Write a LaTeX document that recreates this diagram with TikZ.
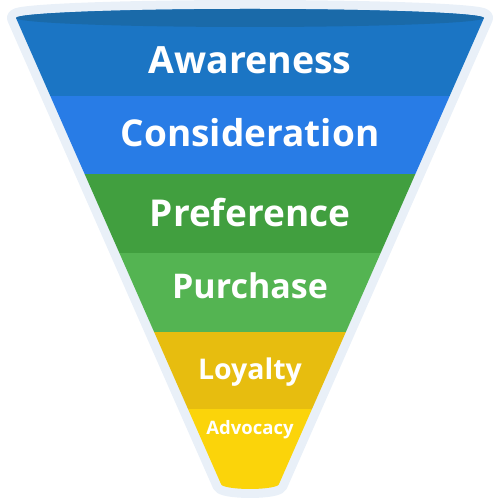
\documentclass[tikz,border=0pt]{standalone}
\usepackage{fontspec}
\setmainfont{Open Sans}
\usetikzlibrary{positioning}

\definecolor{rimcol}{HTML}{E9F0F8}
\definecolor{awarecol}{HTML}{1B75C4}
\definecolor{awaretop}{HTML}{1A6AA9}
\definecolor{considcol}{HTML}{287CE6}
\definecolor{prefcol}{HTML}{419F3F}
\definecolor{purchcol}{HTML}{54B452}
\definecolor{loyalcol}{HTML}{E7BD0F}
\definecolor{advoccol}{HTML}{FBD40A}

\newcommand{\fsz}[1]{\fontsize{#1}{#1}\selectfont\bfseries}

\begin{document}
\begin{tikzpicture}[
  x=1pt, y=1pt,
  stage/.style={
    text=white,
    anchor=base,
    inner sep=0pt
  },
  rim/.style={
    draw=rimcol,
    fill=rimcol,
    line width=18pt,
    line join=round
  }
]
\useasboundingbox (0,0) rectangle (501,500);

% Funnel outline
\path[rim] (16,482) arc[start angle=180, end angle=0, x radius=234pt, y radius=9pt]
  -- (279,16) arc[start angle=0, end angle=-180, x radius=29pt, y radius=5pt]
  -- cycle;

% Funnel bands
\begin{scope}
\clip (16,482) arc[start angle=180, end angle=0, x radius=234pt, y radius=9pt]
  -- (279,16) arc[start angle=0, end angle=-180, x radius=29pt, y radius=5pt]
  -- cycle;
\fill[awarecol] (0,404) rectangle (501,500);
\fill[considcol] (0,326) rectangle (501,404);
\fill[prefcol] (0,247) rectangle (501,326);
\fill[purchcol] (0,168) rectangle (501,247);
\fill[loyalcol] (0,91) rectangle (501,168);
\fill[advoccol] (0,0) rectangle (501,91);
\fill[awaretop] (250,482) ellipse[x radius=234pt, y radius=9pt];
\end{scope}

% Stage labels
\node[stage,font=\fsz{37.5}] (awareness) at (250,426) {Awareness};
\node[stage,font=\fsz{37}] (consideration) at (250,353) {Consideration};
\node[stage,font=\fsz{37}] (preference) at (250,273) {Preference};
\node[stage,font=\fsz{34}] (purchase) at (250,201) {Purchase};
\node[stage,font=\fsz{28.5}] (loyalty) at (250,120) {Loyalty};
\node[stage,font=\fsz{18.5}] (advocacy) at (250,65) {Advocacy};

\end{tikzpicture}
\end{document}
